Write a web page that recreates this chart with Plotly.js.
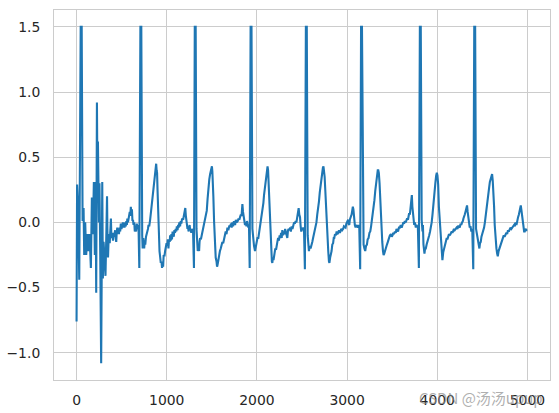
<!DOCTYPE html>
<html>
<head>
<meta charset="utf-8">
<script src="https://cdn.plot.ly/plotly-3.0.1.min.js"></script>
<style>html,body{margin:0;padding:0;background:#fff;}#chart{width:559px;height:413px;}</style>
</head>
<body>
<div id="chart"></div>
<script>
// x tick positions / labels
const xTickVals = [0, 1000, 2000, 3000, 4000, 5000];
const xTickText = ['0', '1000', '2000', '3000', '4000', '5000'];
// y tick positions / labels
const yTickVals = [-1.0, -0.5, 0.0, 0.5, 1.0, 1.5];
const yTickText = ['\u22121.0', '\u22120.5', '0.0', '0.5', '1.0', '1.5'];

// ECG samples: [sample index, amplitude]
const ecgStart = [
  [0,-0.76],[6,0.29],[18,0.10],[30,-0.44],[46,1.5],[57,1.5],[67,0.01],[78,0.11],[85,-0.25],[96,0.0],
  [107,-0.25],[114,-0.10],[122,-0.09],[128,-0.22],[133,-0.20],[144,-0.09],[150,-0.18],[159,-0.35],[170,0.19],[176,-0.05],
  [181,-0.09],[192,0.31],[203,-0.25],[211,0.31],[218,-0.54],[226,0.92],[232,0.30],[237,0.62],[248,0.0],[254,0.30],
  [262,-0.20],[273,-1.08],[285,0.31],[292,-0.43],[300,-0.15],[307,-0.25],[321,-0.41],[330,-0.10],[338,0.20],[342,-0.05],
  [349,-0.27],[356,-0.12],[362,-0.09],[368,-0.16],[374,-0.02],[381,0.03],[386,-0.10],[392,-0.12],[398,-0.08],[404,-0.14],
  [410,-0.08],[416,-0.11],[421,-0.09],[428,-0.06],[434,-0.12],[440,-0.15],[446,-0.07],[452,-0.04],[458,-0.09],[464,-0.05],
  [470,-0.09],[478,-0.04],[484,-0.07],[491,-0.01],[498,-0.05],[505,-0.01],[514,0.0],[520,-0.04],[527,-0.01],[532,-0.04],
  [540,0.0],[546,-0.03],[552,0.01],[558,-0.02],[563,0.03],[570,0.0],[577,0.04],[584,0.05],[590,0.08],[596,0.05],
  [602,0.12],[608,0.06],[614,0.10],[620,0.01],[626,0.02],[632,-0.02],[640,0.0],[646,-0.07],[652,-0.04],[660,-0.07],
  [668,-0.01],[676,-0.05],[682,-0.02],[688,-0.06]
];
const ecgBeats2to3 = [
  [696,-0.35],[708,1.5],[718,1.5],[728,-0.10],[733,-0.20],[740,-0.12],[745,-0.17],[750,-0.20],[756,-0.14],[762,-0.17],
  [770,-0.11],[779,-0.09],[786,-0.06],[792,-0.05],[798,-0.02],[806,-0.03],[816,0.02],[825,0.08],[835,0.14],[844,0.22],
  [853,0.29],[862,0.36],[871,0.40],[877,0.45],[883,0.45],[888,0.40],[893,0.38],[898,0.25],[905,0.05],[912,-0.10],
  [920,-0.22],[928,-0.27],[934,-0.31],[942,-0.30],[948,-0.35],[953,-0.31],[960,-0.34],[966,-0.25],[975,-0.26],[982,-0.22],
  [990,-0.20],[998,-0.16],[1005,-0.18],[1012,-0.13],[1019,-0.20],[1026,-0.13],[1033,-0.15],[1038,-0.10],[1045,-0.14],[1052,-0.09],
  [1058,-0.13],[1065,-0.07],[1072,-0.10],[1078,-0.11],[1085,-0.06],[1092,-0.08],[1099,-0.05],[1106,-0.07],[1112,-0.03],[1120,-0.06],
  [1127,-0.02],[1133,-0.04],[1140,0.0],[1148,-0.03],[1155,0.01],[1162,-0.01],[1168,0.02],[1175,0.03],[1182,0.02],[1190,0.06],
  [1196,0.05],[1201,0.10],[1206,0.11],[1212,0.05],[1218,0.02],[1224,-0.02],[1230,-0.05],[1236,-0.03],[1242,-0.07],[1248,-0.04],
  [1254,-0.02],[1260,-0.06],[1266,-0.05],[1272,-0.08],[1278,-0.05],[1284,-0.06],[1292,-0.07],
  [1302,-0.35],[1311,1.5],[1321,1.5],[1330,-0.05],[1337,-0.20],[1344,-0.22],[1351,-0.18],[1359,-0.22],[1364,-0.15],[1370,-0.12],
  [1379,-0.13],[1388,-0.10],[1397,-0.08],[1407,-0.04],[1416,-0.02],[1425,0.01],[1435,0.05],[1444,0.09],[1453,0.18],[1462,0.27],
  [1472,0.33],[1481,0.37],[1490,0.40],[1496,0.43],[1501,0.43],[1506,0.39],[1510,0.35],[1517,0.20],[1525,0.01],[1534,-0.14],
  [1543,-0.27],[1552,-0.30],[1558,-0.34],[1562,-0.33],[1570,-0.30],[1580,-0.25],[1590,-0.22],[1599,-0.20],[1608,-0.17],[1617,-0.15],
  [1626,-0.16],[1636,-0.12],[1645,-0.10],[1654,-0.07],[1663,-0.09],[1673,-0.04],[1683,-0.06],[1693,-0.03],[1703,-0.03],[1713,-0.01],
  [1720,-0.04],[1728,0.0],[1736,-0.03],[1745,0.01],[1758,-0.02],[1766,0.02],[1775,0.0],[1788,0.01],[1796,0.03],[1805,0.02],
  [1813,0.04],[1822,0.06],[1830,0.05],[1839,0.14],[1846,0.08],[1854,0.04],[1861,-0.01],[1868,-0.02],[1876,0.0],[1884,-0.03],
  [1890,0.01],[1897,-0.03],[1905,-0.04],[1912,-0.02]
];
const ecgBeats4to5 = [
  [1920,-0.35],[1930,1.5],[1940,1.5],[1950,-0.05],[1960,-0.15],[1968,-0.18],[1979,-0.22],[1988,-0.18],[1997,-0.17],[2006,-0.12],
  [2016,-0.12],[2025,-0.08],[2034,-0.03],[2045,0.0],[2053,0.06],[2064,0.11],[2072,0.15],[2079,0.21],[2088,0.26],[2097,0.31],
  [2106,0.37],[2112,0.42],[2118,0.43],[2124,0.40],[2130,0.30],[2138,0.15],[2145,0.0],[2152,-0.15],[2160,-0.25],[2166,-0.30],
  [2171,-0.31],[2178,-0.27],[2184,-0.29],[2190,-0.25],[2197,-0.24],[2204,-0.20],[2212,-0.21],[2218,-0.16],[2227,-0.15],[2235,-0.12],
  [2244,-0.14],[2252,-0.10],[2260,-0.12],[2268,-0.08],[2275,-0.12],[2282,-0.06],[2290,-0.10],[2298,-0.07],[2306,-0.09],[2313,-0.05],
  [2320,-0.08],[2328,-0.10],[2337,-0.12],[2345,-0.06],[2352,-0.05],[2360,-0.06],[2368,-0.04],[2376,-0.07],[2385,-0.03],[2394,-0.05],
  [2404,-0.02],[2412,0.0],[2420,-0.01],[2430,0.01],[2438,0.0],[2448,0.04],[2455,0.05],[2463,0.11],[2470,0.06],[2478,0.04],
  [2485,-0.03],[2492,-0.07],[2500,-0.04],[2508,-0.06],[2515,-0.04],[2522,-0.05],
  [2532,-0.36],[2543,1.5],[2553,1.5],[2563,-0.10],[2577,-0.22],[2586,-0.18],[2595,-0.20],[2604,-0.16],[2614,-0.15],[2623,-0.12],
  [2632,-0.09],[2642,-0.06],[2651,-0.04],[2660,0.0],[2669,0.06],[2678,0.10],[2688,0.16],[2697,0.23],[2706,0.29],[2715,0.34],
  [2725,0.39],[2732,0.42],[2738,0.43],[2744,0.40],[2751,0.35],[2758,0.25],[2766,0.11],[2775,-0.05],[2784,-0.15],[2791,-0.22],
  [2799,-0.30],[2804,-0.31],[2812,-0.27],[2821,-0.25],[2828,-0.22],[2836,-0.17],[2845,-0.16],[2852,-0.12],[2858,-0.12],[2866,-0.09],
  [2876,-0.10],[2884,-0.07],[2892,-0.09],[2902,-0.08],[2910,-0.06],[2920,-0.08],[2928,-0.07],[2936,-0.05],[2946,-0.06],[2957,-0.05],
  [2965,-0.03],[2975,-0.04],[2983,-0.04],[2992,-0.01],[3000,0.0],[3005,0.0],[3012,0.02],[3018,-0.01],[3024,-0.02],[3030,0.02],
  [3036,0.03],[3042,0.04],[3050,0.06],[3057,0.09],[3064,0.12],[3070,0.10],[3075,0.05],[3079,0.06],[3086,-0.02],[3094,-0.04],
  [3102,-0.02],[3112,-0.03],[3120,-0.04],[3128,-0.02],[3135,-0.04]
];
const ecgBeats6to8 = [
  [3145,-0.36],[3155,1.5],[3165,1.5],[3175,-0.05],[3183,-0.17],[3192,-0.20],[3201,-0.22],[3210,-0.18],[3220,-0.17],[3228,-0.13],
  [3238,-0.12],[3248,-0.08],[3257,-0.07],[3266,-0.03],[3275,0.01],[3285,0.06],[3294,0.11],[3303,0.17],[3312,0.24],[3322,0.30],
  [3331,0.37],[3340,0.40],[3346,0.40],[3352,0.38],[3360,0.30],[3368,0.15],[3375,0.08],[3383,-0.06],[3390,-0.15],[3398,-0.22],
  [3405,-0.25],[3412,-0.24],[3423,-0.22],[3432,-0.20],[3442,-0.17],[3452,-0.15],[3464,-0.12],[3474,-0.10],[3486,-0.09],[3495,-0.11],
  [3504,-0.10],[3512,-0.08],[3520,-0.09],[3530,-0.07],[3540,-0.08],[3548,-0.05],[3556,-0.06],[3565,-0.07],[3575,-0.04],[3585,-0.04],
  [3595,-0.02],[3605,-0.04],[3615,-0.02],[3624,0.0],[3632,-0.01],[3640,0.01],[3650,0.0],[3658,0.02],[3666,0.03],[3675,0.02],
  [3688,0.07],[3696,0.06],[3703,0.11],[3710,0.13],[3718,0.21],[3724,0.12],[3729,0.09],[3736,0.03],[3744,-0.02],[3752,0.0],
  [3762,-0.04],[3770,-0.02],[3777,-0.03],[3785,-0.04],
  [3796,-0.35],[3807,1.5],[3817,1.5],[3827,0.02],[3836,-0.07],[3841,-0.02],[3847,-0.17],[3853,-0.20],[3858,-0.24],[3865,-0.20],
  [3873,-0.20],[3882,-0.17],[3892,-0.15],[3901,-0.12],[3910,-0.10],[3920,-0.07],[3929,-0.04],[3938,0.0],[3947,0.06],[3955,0.13],
  [3962,0.21],[3971,0.27],[3980,0.31],[3988,0.36],[3995,0.38],[4002,0.36],[4010,0.29],[4018,0.12],[4028,0.01],[4037,-0.12],
  [4046,-0.22],[4052,-0.27],[4057,-0.29],[4066,-0.23],[4076,-0.20],[4085,-0.17],[4094,-0.15],[4105,-0.12],[4112,-0.13],[4120,-0.11],
  [4130,-0.09],[4140,-0.10],[4150,-0.09],[4160,-0.07],[4168,-0.08],[4175,-0.07],[4185,-0.05],[4194,-0.06],[4205,-0.05],[4214,-0.04],
  [4223,-0.05],[4231,-0.03],[4240,-0.03],[4249,-0.04],[4258,-0.01],[4266,-0.02],[4275,0.0],[4284,0.01],[4290,0.03],[4297,0.04],
  [4305,0.06],[4316,0.09],[4323,0.12],[4330,0.13],[4337,0.08],[4345,0.04],[4352,-0.02],[4360,-0.04],[4368,-0.03],[4378,-0.07],
  [4388,-0.05],
  [4399,-0.36],[4410,1.5],[4420,1.5],[4430,-0.05],[4440,-0.10],[4446,-0.12],[4452,-0.15],[4460,-0.18],[4467,-0.20],[4474,-0.16],
  [4482,-0.15],[4490,-0.11],[4500,-0.09],[4510,-0.06],[4519,-0.04],[4528,0.0],[4537,0.06],[4546,0.10],[4556,0.14],[4565,0.21],
  [4574,0.26],[4583,0.31],[4593,0.34],[4600,0.37],[4608,0.37],[4615,0.32],[4623,0.24],[4630,0.12],[4637,-0.02],[4646,-0.13],
  [4656,-0.20],[4664,-0.24],[4671,-0.26],[4680,-0.22],[4689,-0.20],[4700,-0.17],[4711,-0.15],[4720,-0.13],[4728,-0.12],[4737,-0.10],
  [4746,-0.11],[4756,-0.09],[4767,-0.08],[4775,-0.09],[4784,-0.06],[4793,-0.07],[4802,-0.06],[4812,-0.04],[4822,-0.05],[4832,-0.04],
  [4842,-0.03],[4852,-0.02],[4860,-0.03],[4868,0.0],[4878,-0.02],[4887,0.02],[4896,0.04],[4905,0.06],[4915,0.09],[4920,0.12],
  [4926,0.13],[4932,0.10],[4941,0.05],[4948,-0.02],[4956,-0.04],[4963,-0.07],[4970,-0.07],[4978,-0.05],[4989,-0.06],[4999,-0.06]
];

const watermarkText = 'CSDN @汤汤upup';

const allSamples = ecgStart.concat(ecgBeats2to3, ecgBeats4to5, ecgBeats6to8);
const xs = allSamples.map(p => p[0]);
const ys = allSamples.map(p => p[1]);

const trace = {
  x: xs, y: ys, type: 'scatter', mode: 'lines',
  line: {color: '#1f77b4', width: 2.1},
  hoverinfo: 'skip'
};

const gridColor = '#cccccc';
const layout = {
  width: 559, height: 413,
  margin: {l: 54, r: 9, t: 10, b: 33, pad: 0},
  paper_bgcolor: '#ffffff', plot_bgcolor: '#ffffff',
  font: {family: 'DejaVu Sans, sans-serif', size: 13.9, color: '#262626'},
  showlegend: false,
  xaxis: {
    range: [-250, 5250], tickmode: 'array', tickvals: xTickVals, ticktext: xTickText,
    showgrid: true, gridcolor: gridColor, gridwidth: 1, zeroline: false,
    showline: true, mirror: true, linecolor: gridColor, linewidth: 1,
    ticks: '', ticklabelstandoff: 7
  },
  yaxis: {
    range: [-1.209, 1.629], tickmode: 'array', tickvals: yTickVals, ticktext: yTickText,
    showgrid: true, gridcolor: gridColor, gridwidth: 1, zeroline: false,
    showline: true, mirror: true, linecolor: gridColor, linewidth: 1,
    ticks: '', ticklabelstandoff: 10
  },
  annotations: [{
    text: watermarkText, xref: 'paper', yref: 'paper',
    x: 0.861, y: -0.047, xanchor: 'center', yanchor: 'middle', showarrow: false,
    font: {family: 'Noto Sans CJK SC, sans-serif', size: 15, color: 'rgba(140,140,140,0.7)'}
  }]
};

Plotly.newPlot('chart', [trace], layout, {staticPlot: true, displayModeBar: false});
</script>
</body>
</html>
